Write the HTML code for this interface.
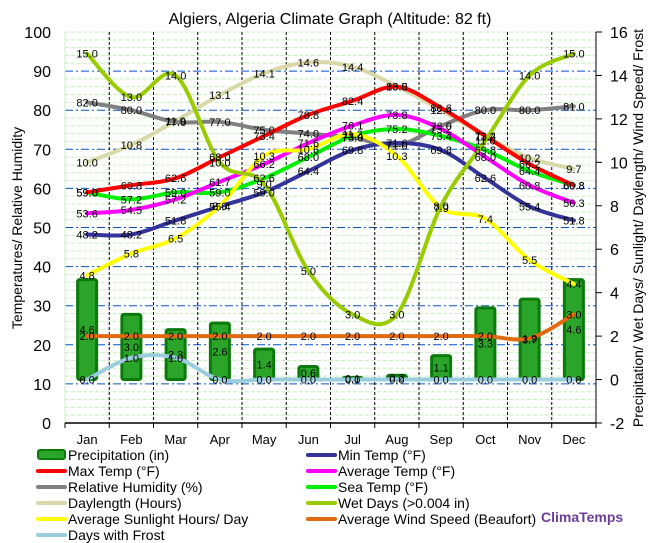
<!DOCTYPE html>
<html><head><meta charset="utf-8">
<style>
body{margin:0;background:#fff;}
svg{display:block;font-family:"Liberation Sans",sans-serif;}
</style></head>
<body>
<svg id="c" width="661" height="543" viewBox="0 0 661 543">
<rect width="661" height="543" fill="#fff"/>
<text x="330" y="24" text-anchor="middle" font-size="16">Algiers, Algeria Climate Graph (Altitude: 82 ft)</text>
<g id="grid"></g>
<g id="bars"></g>
<g id="lines"></g>
<g id="labels" font-size="11"></g>
<g id="axes" font-size="16"></g>
<text transform="translate(22,228) rotate(-90)" text-anchor="middle" font-size="14">Temperatures/ Relative Humidity</text>
<text transform="translate(643,228) rotate(-90)" text-anchor="middle" font-size="14">Precipitation/ Wet Days/ Sunlight/ Daylength/ Wind Speed/ Frost</text>
<g id="legend" font-size="14"></g>
<text x="541" y="522" font-size="14" font-weight="bold" fill="#6b3d99">ClimaTemps</text>
</svg>
<script>
const months=["Jan","Feb","Mar","Apr","May","Jun","Jul","Aug","Sep","Oct","Nov","Dec"];
const leftTicks=[0,10,20,30,40,50,60,70,80,90,100];
const rightTicks=[-2,0,2,4,6,8,10,12,14,16];
const precip=[4.6,3.0,2.3,2.6,1.4,0.6,0.1,0.2,1.1,3.3,3.7,4.6];
const maxTemp=[59.0,60.8,62.6,68.0,73.4,78.8,82.4,86.0,80.6,73.4,66.2,60.8];
const avgTemp=[53.6,54.5,57.2,61.7,66.2,71.6,76.1,78.8,75.2,68.0,60.8,56.3];
const minTemp=[48.2,48.2,51.8,55.4,59.0,64.4,69.8,71.6,69.8,62.6,55.4,51.8];
const humidity=[82.0,80.0,77.0,77.0,75.0,74.0,73.0,71.0,76.0,80.0,80.0,81.0];
const seaTemp=[59.0,57.2,59.0,59.0,62.6,68.0,73.4,75.2,73.4,69.8,64.4,60.8];
const daylength=[10.0,10.8,11.9,13.1,14.1,14.6,14.4,13.5,12.4,11.2,10.2,9.7];
const wetDays=[15.0,13.0,14.0,10.0,9.0,5.0,3.0,3.0,8.0,11.0,14.0,15.0];
const sunlight=[4.8,5.8,6.5,8.0,10.3,10.6,11.3,10.3,7.9,7.4,5.5,4.4];
const wind=[2.0,2.0,2.0,2.0,2.0,2.0,2.0,2.0,2.0,2.0,1.9,3.0];
const frost=[0.0,1.0,1.0,0.0,0.0,0.0,0.0,0.0,0.0,0.0,0.0,0.0];

const X0=65,X1=596,Y0=32,Y1=423;
const step=(X1-X0)/12;
const xm=i=>X0+(i+0.5)*step;
const yl=v=>Y1-(v/100)*(Y1-Y0);
const yr=v=>Y1-((v+2)/18)*(Y1-Y0);
const NS="http://www.w3.org/2000/svg";
function mk(tag,attrs,parent){const e=document.createElementNS(NS,tag);for(const k in attrs)e.setAttribute(k,attrs[k]);parent.appendChild(e);return e;}
const grid=document.getElementById('grid');
for(let v=0;v<=100;v+=2){
 const major=(v%10===0&&v>0&&v<100);
 const l=mk('line',{x1:X0,x2:X1,y1:yl(v),y2:yl(v),stroke:major?'#0055cc':'#c8f0c0','stroke-width':1,'stroke-dasharray':major?'8,3,2,3':'4,2'},grid);
 
 
}
for(let i=1;i<12;i++){
 const l=mk('line',{x1:X0+i*step,x2:X0+i*step,y1:Y0,y2:Y1,stroke:'#000','stroke-width':1,'stroke-dasharray':'3,2'},grid);
 
 
}
const bars=document.getElementById('bars');
precip.forEach((v,i)=>{
 const top=yr(v),bot=yr(0);
 const r=mk('rect',{x:xm(i)-9.5,y:top,width:19,height:bot-top,rx:2,fill:'#2aa52a',stroke:'#0a7a0a','stroke-width':3},bars);
 
 
});
function path(vals,yf){
 const p=vals.map((v,i)=>[xm(i),yf(v)]);
 let d='M'+p[0][0]+','+p[0][1];
 for(let i=0;i<p.length-1;i++){
  const a=p[Math.max(0,i-1)],b=p[i],c=p[i+1],e=p[Math.min(p.length-1,i+2)];
  const c1=[b[0]+(c[0]-a[0])/6,b[1]+(c[1]-a[1])/6],c2=[c[0]-(e[0]-b[0])/6,c[1]-(e[1]-b[1])/6];
  d+=' C'+c1+' '+c2+' '+c;
 }
 return d;
}
const series=[
 ['frost-line',frost,yr,'#99ccdd'],
 ['wind-line',wind,yr,'#e06a10'],
 ['daylength-line',daylength,yr,'#d8d8a8'],
 ['humidity-line',humidity,yl,'#808080'],
 ['min-temp-line',minTemp,yl,'#333399'],
 ['sea-temp-line',seaTemp,yl,'#00ee00'],
 ['avg-temp-line',avgTemp,yl,'#ff00ff'],
 ['max-temp-line',maxTemp,yl,'#ff0000'],
 ['sunlight-line',sunlight,yr,'#ffff00'],
 ['wet-days-line',wetDays,yr,'#99cc00'],
];
const lines=document.getElementById('lines'),labels=document.getElementById('labels');
series.forEach(s=>{
 const p=mk('path',{d:path(s[1],s[2]),fill:'none',stroke:s[3],'stroke-width':4,'stroke-linecap':'round'},lines);
 
 
});
precip.forEach((v,i)=>{
 const t=mk('text',{x:xm(i),y:(yr(v)+yr(0))/2+4,'text-anchor':'middle'},labels);
 t.textContent=v.toFixed(1);
 
 
});
series.forEach(s=>{
 s[1].forEach((v,i)=>{
  const t=mk('text',{x:xm(i),y:s[2](v)+4,'text-anchor':'middle'},labels);
  t.textContent=v.toFixed(1);
  
  
 });
});
const ax=document.getElementById('axes');
mk('line',{x1:X0,x2:X0,y1:Y0,y2:Y1,stroke:'#c8f0c0'},ax);
mk('line',{x1:X1,x2:X1,y1:Y0,y2:Y1,stroke:'#000'},ax);
mk('line',{x1:X0,x2:X1,y1:Y1,y2:Y1,stroke:'#000','stroke-width':1.5},ax);
leftTicks.forEach(v=>{
 const t=mk('text',{x:X0-14,y:yl(v)+6,'text-anchor':'end'},ax);
 t.textContent=v;
 
 
});
rightTicks.forEach(v=>{
 mk('line',{x1:X1,x2:X1+6,y1:yr(v),y2:yr(v),stroke:'#000'},ax);
 const t=mk('text',{x:X1+14,y:yr(v)+6,'text-anchor':'start'},ax);
 t.textContent=v;
 
 
});
for(let i=0;i<=12;i++)mk('line',{x1:X0+i*step,x2:X0+i*step,y1:Y1,y2:Y1+5,stroke:'#000'},ax);
months.forEach((m,i)=>{
 const t=mk('text',{x:xm(i),y:444,'text-anchor':'middle','font-size':13},ax);
 t.textContent=m;
 
 
});
const lg=document.getElementById('legend');
const leg=[
 ['Precipitation (in)','#2aa52a',38,455,true],['Min Temp (°F)','#333399',308,455],
 ['Max Temp (°F)','#ff0000',38,471],['Average Temp (°F)','#ff00ff',308,471],
 ['Relative Humidity (%)','#808080',38,487],['Sea Temp (°F)','#00ee00',308,487],
 ['Daylength (Hours)','#d8d8a8',38,503],['Wet Days (>0.004 in)','#99cc00',308,503],
 ['Average Sunlight Hours/ Day','#ffff00',38,519],['Average Wind Speed (Beaufort)','#e06a10',308,519],
 ['Days with Frost','#99ccdd',38,535]
];
leg.forEach(e=>{
 const g=mk('g',{},lg);
 
 
 if(e[4])mk('rect',{x:e[2],y:e[3]-5,width:27,height:9,rx:2,fill:e[1],stroke:'#0a7a0a','stroke-width':2},g);
 else mk('line',{x1:e[2],x2:e[2]+27,y1:e[3],y2:e[3],stroke:e[1],'stroke-width':4,'stroke-linecap':'round'},g);
 const t=mk('text',{x:e[2]+30,y:e[3]+5},g);
 t.textContent=e[0];
});
</script>
</body></html>
